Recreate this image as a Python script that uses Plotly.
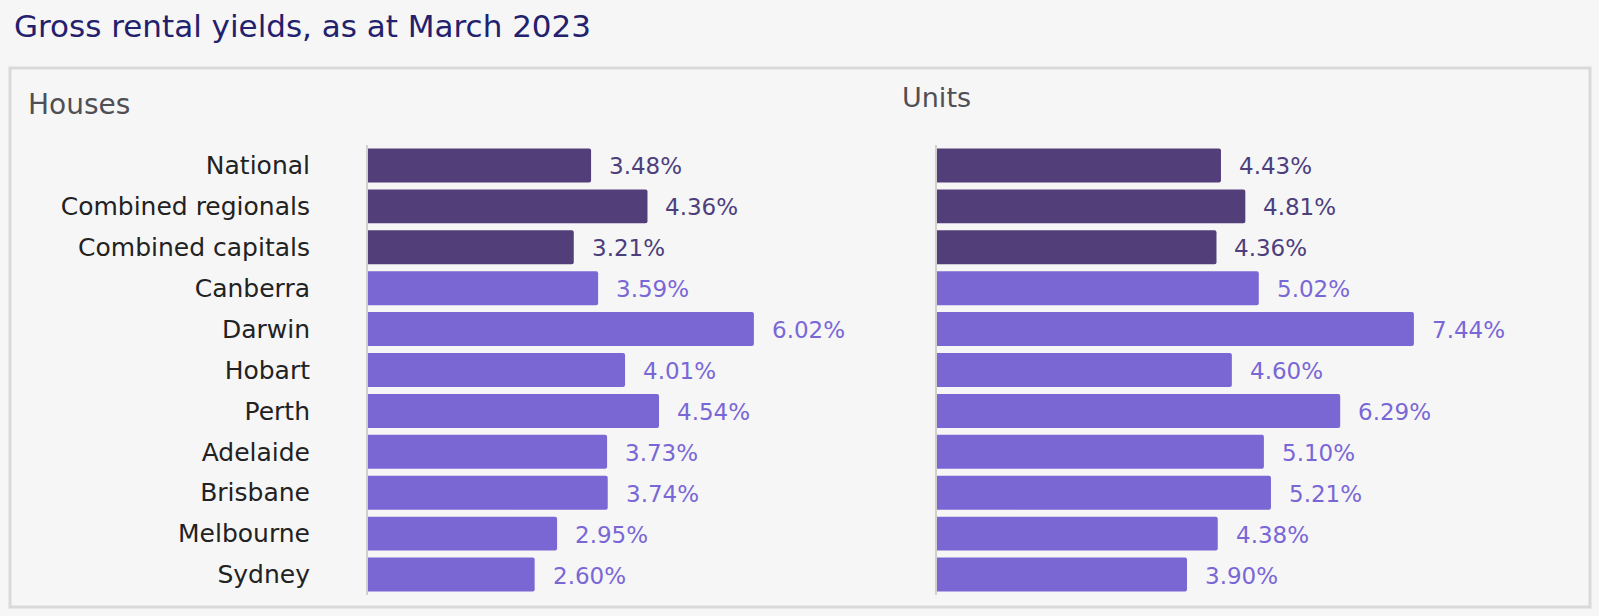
import plotly.graph_objects as go

W, H = 1599, 616

categories = ["National", "Combined regionals", "Combined capitals", "Canberra", "Darwin",
              "Hobart", "Perth", "Adelaide", "Brisbane", "Melbourne", "Sydney"]
houses = [3.48, 4.36, 3.21, 3.59, 6.02, 4.01, 4.54, 3.73, 3.74, 2.95, 2.60]
units = [4.43, 4.81, 4.36, 5.02, 7.44, 4.60, 6.29, 5.10, 5.21, 4.38, 3.90]
is_aggregate = [True, True, True, False, False, False, False, False, False, False, False]

DARK, LIGHT = "#523e79", "#7b67d3"
DARK_TXT, LIGHT_TXT = "#4d3f7c", "#7a67d6"
FONT = "DejaVu Sans"

bar_colors = [DARK if a else LIGHT for a in is_aggregate]
txt_colors = [DARK_TXT if a else LIGHT_TXT for a in is_aggregate]

def px_x(p):
    return p / W

def px_y(p):
    return 1 - p / H

fig = go.Figure()
fig.add_trace(go.Bar(y=categories, x=houses, orientation="h", marker=dict(color=bar_colors, line_width=0, cornerradius=2),
                     xaxis="x", yaxis="y", hoverinfo="x+y", showlegend=False))
fig.add_trace(go.Bar(y=categories, x=units, orientation="h", marker=dict(color=bar_colors, line_width=0, cornerradius=2),
                     xaxis="x2", yaxis="y2", hoverinfo="x+y", showlegend=False))

annotations = []
for cat, v, c in zip(categories, houses, txt_colors):
    annotations.append(dict(x=v, y=cat, xref="x", yref="y", text=f"{v:.2f}%", showarrow=False,
                            xanchor="left", xshift=16, yshift=-1, font=dict(family=FONT, size=23, color=c)))
for cat, v, c in zip(categories, units, txt_colors):
    annotations.append(dict(x=v, y=cat, xref="x2", yref="y2", text=f"{v:.2f}%", showarrow=False,
                            xanchor="left", xshift=16, yshift=-1, font=dict(family=FONT, size=23, color=c)))

annotations += [
    dict(x=px_x(12), y=px_y(26), xref="paper", yref="paper", text="Gross rental yields, as at March 2023",
         showarrow=False, xanchor="left", yanchor="middle", font=dict(family=FONT, size=31, color="#23206e")),
    dict(x=px_x(26), y=px_y(105), xref="paper", yref="paper", text="Houses",
         showarrow=False, xanchor="left", yanchor="middle", font=dict(family=FONT, size=28, color="#4f4f55")),
    dict(x=px_x(900), y=px_y(97), xref="paper", yref="paper", text="Units",
         showarrow=False, xanchor="left", yanchor="middle", font=dict(family=FONT, size=27, color="#4f4f55")),
]

ydom = [px_y(595), px_y(145)]
scale = 64.1
fig.update_layout(
    width=W, height=H,
    margin=dict(l=0, r=0, t=0, b=0),
    paper_bgcolor="#f6f6f6", plot_bgcolor="#f6f6f6",
    bargap=0.17,
    xaxis=dict(domain=[px_x(368), px_x(368 + 7 * scale)], range=[0, 7], visible=False, fixedrange=True),
    xaxis2=dict(domain=[px_x(937), px_x(937 + 9 * scale)], range=[0, 9], visible=False, fixedrange=True),
    yaxis=dict(domain=ydom, anchor="x", categoryorder="array", categoryarray=categories, autorange="reversed",
               showline=True, linecolor="#d3cfcb", linewidth=2, showgrid=False, zeroline=False,
               ticks="", ticklabelstandoff=51, tickfont=dict(family=FONT, size=25, color="#222222")),
    yaxis2=dict(domain=ydom, anchor="x2", categoryorder="array", categoryarray=categories, autorange="reversed",
                showline=True, linecolor="#d3cfcb", linewidth=2, showgrid=False, zeroline=False,
                showticklabels=False, ticks=""),
    annotations=annotations,
    shapes=[dict(type="rect", xref="paper", yref="paper", x0=px_x(10), x1=px_x(1590), y0=px_y(607), y1=px_y(68),
                 line=dict(color="#d9d9d9", width=3), fillcolor="rgba(0,0,0,0)", layer="below")],
)

fig.write_html("out.html")
